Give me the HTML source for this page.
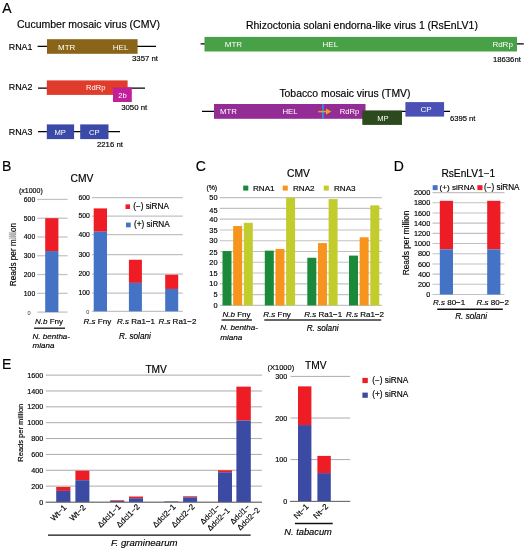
<!DOCTYPE html>
<html lang="en"><head><meta charset="utf-8"><title>Figure</title>
<style>
html,body{margin:0;padding:0;background:#fff;}
body{width:527px;height:550px;overflow:hidden;}
svg{display:block;font-family:"Liberation Sans",Arial,Helvetica,sans-serif;}
text{stroke-width:0.16px;}
text[fill="#000"]{stroke:#000;}
text[fill="#fff"]{stroke:none;}
</style></head><body>
<svg width="527" height="550" viewBox="0 0 527 550">
<rect x="0" y="0" width="527" height="550" fill="#ffffff"/>
<text x="2.30" y="12.75" font-size="14" text-anchor="start" fill="#000">A</text>
<text x="1.90" y="171.10" font-size="14" text-anchor="start" fill="#000">B</text>
<text x="195.80" y="171.10" font-size="14" text-anchor="start" fill="#000">C</text>
<text x="393.80" y="170.90" font-size="14" text-anchor="start" fill="#000">D</text>
<text x="1.90" y="369.10" font-size="14" text-anchor="start" fill="#000">E</text>
<text x="17.00" y="27.70" font-size="10.5" text-anchor="start" fill="#000">Cucumber mosaic virus (CMV)</text>
<text x="8.80" y="50.00" font-size="8.9" text-anchor="start" fill="#000">RNA1</text>
<line x1="37.60" y1="46.40" x2="156.00" y2="46.40" stroke="#000" stroke-width="1.35"/>
<rect x="47.00" y="39.20" width="90.60" height="14.60" fill="#8a6519"/>
<text x="58.00" y="50.00" font-size="8.0" text-anchor="start" fill="#fff">MTR</text>
<text x="112.80" y="50.00" font-size="8.0" text-anchor="start" fill="#fff">HEL</text>
<text x="132.00" y="61.00" font-size="7.8" text-anchor="start" fill="#000">3357 nt</text>
<text x="8.80" y="90.40" font-size="8.9" text-anchor="start" fill="#000">RNA2</text>
<line x1="38.00" y1="88.10" x2="145.00" y2="88.10" stroke="#000" stroke-width="1.35"/>
<rect x="46.80" y="80.40" width="80.80" height="14.50" fill="#e03c2b"/>
<text x="86.00" y="90.10" font-size="7.6" text-anchor="start" fill="#fff">RdRp</text>
<rect x="113.00" y="87.50" width="18.80" height="14.50" fill="#c21f9a"/>
<text x="122.60" y="97.70" font-size="7.6" text-anchor="middle" fill="#fff">2b</text>
<text x="121.20" y="110.00" font-size="7.8" text-anchor="start" fill="#000">3050 nt</text>
<text x="8.80" y="135.40" font-size="8.9" text-anchor="start" fill="#000">RNA3</text>
<line x1="38.00" y1="131.60" x2="120.00" y2="131.60" stroke="#000" stroke-width="1.35"/>
<rect x="46.80" y="124.40" width="27.30" height="14.70" fill="#3b4aa8"/>
<rect x="80.20" y="124.40" width="28.30" height="14.70" fill="#3b4aa8"/>
<text x="60.20" y="134.60" font-size="7.6" text-anchor="middle" fill="#fff">MP</text>
<text x="94.30" y="134.60" font-size="7.6" text-anchor="middle" fill="#fff">CP</text>
<text x="96.90" y="146.60" font-size="7.8" text-anchor="start" fill="#000">2216 nt</text>
<text x="246.00" y="29.00" font-size="10.45" text-anchor="start" fill="#000">Rhizoctonia solani endorna-like virus 1 (RsEnLV1)</text>
<line x1="200.60" y1="43.90" x2="523.80" y2="43.90" stroke="#000" stroke-width="1.35"/>
<rect x="204.50" y="36.90" width="312.50" height="14.60" fill="#49a147"/>
<text x="224.80" y="47.00" font-size="8.0" text-anchor="start" fill="#fff">MTR</text>
<text x="322.60" y="47.00" font-size="8.0" text-anchor="start" fill="#fff">HEL</text>
<text x="492.40" y="47.00" font-size="8.0" text-anchor="start" fill="#fff">RdRp</text>
<text x="493.00" y="61.80" font-size="7.7" text-anchor="start" fill="#000">18636nt</text>
<text x="279.40" y="96.70" font-size="10.4" text-anchor="start" fill="#000">Tobacco mosaic virus (TMV)</text>
<line x1="202.00" y1="111.40" x2="450.00" y2="111.40" stroke="#000" stroke-width="1.35"/>
<rect x="214.00" y="104.00" width="151.50" height="14.80" fill="#932d95"/>
<text x="220.00" y="114.20" font-size="7.8" text-anchor="start" fill="#fff">MTR</text>
<text x="282.40" y="114.20" font-size="7.8" text-anchor="start" fill="#fff">HEL</text>
<text x="339.70" y="114.20" font-size="7.65" text-anchor="start" fill="#fff">RdRp</text>
<line x1="322.90" y1="104.00" x2="322.90" y2="118.80" stroke="#2f97de" stroke-width="1.6"/>
<line x1="318.20" y1="111.60" x2="327.00" y2="111.60" stroke="#e3a322" stroke-width="1.5"/>
<path d="M326.0 108.4 L331.3 111.6 L326.0 114.8 Z" fill="#e3a322"/>
<rect x="362.30" y="110.60" width="39.70" height="14.30" fill="#2c4a1e"/>
<text x="383.00" y="121.10" font-size="7.6" text-anchor="middle" fill="#fff">MP</text>
<rect x="405.40" y="102.10" width="38.70" height="14.50" fill="#4a50b5"/>
<text x="426.00" y="112.20" font-size="8.1" text-anchor="middle" fill="#fff">CP</text>
<text x="450.00" y="120.90" font-size="7.65" text-anchor="start" fill="#000">6395 nt</text>
<text x="70.60" y="182.10" font-size="10.3" text-anchor="start" fill="#000">CMV</text>
<text x="19.00" y="193.10" font-size="7.0" text-anchor="start" fill="#000">(x1000)</text>
<line x1="37.30" y1="312.10" x2="67.60" y2="312.10" stroke="#c2c2c2" stroke-width="1.25"/>
<text x="30.50" y="314.50" font-size="5.6" text-anchor="end" fill="#333">0</text>
<line x1="37.30" y1="293.32" x2="67.60" y2="293.32" stroke="#c2c2c2" stroke-width="1.25"/>
<text x="35.20" y="295.72" font-size="6.8" text-anchor="end" fill="#000">100</text>
<line x1="37.30" y1="274.54" x2="67.60" y2="274.54" stroke="#c2c2c2" stroke-width="1.25"/>
<text x="35.20" y="276.94" font-size="6.8" text-anchor="end" fill="#000">200</text>
<line x1="37.30" y1="255.76" x2="67.60" y2="255.76" stroke="#c2c2c2" stroke-width="1.25"/>
<text x="35.20" y="258.16" font-size="6.8" text-anchor="end" fill="#000">300</text>
<line x1="37.30" y1="236.98" x2="67.60" y2="236.98" stroke="#c2c2c2" stroke-width="1.25"/>
<text x="35.20" y="239.38" font-size="6.8" text-anchor="end" fill="#000">400</text>
<line x1="37.30" y1="218.20" x2="67.60" y2="218.20" stroke="#c2c2c2" stroke-width="1.25"/>
<text x="35.20" y="220.60" font-size="6.8" text-anchor="end" fill="#000">500</text>
<line x1="37.30" y1="199.42" x2="67.60" y2="199.42" stroke="#c2c2c2" stroke-width="1.25"/>
<text x="35.20" y="201.82" font-size="6.8" text-anchor="end" fill="#000">600</text>
<rect x="45.20" y="218.20" width="13.20" height="32.86" fill="#ee1c25"/>
<rect x="45.20" y="251.06" width="13.20" height="61.04" fill="#4472c4"/>
<line x1="92.00" y1="311.40" x2="182.80" y2="311.40" stroke="#c2c2c2" stroke-width="1.25"/>
<text x="89.40" y="313.80" font-size="5.6" text-anchor="end" fill="#333">0</text>
<line x1="92.00" y1="293.00" x2="182.80" y2="293.00" stroke="#c2c2c2" stroke-width="1.25"/>
<text x="89.80" y="295.40" font-size="6.8" text-anchor="end" fill="#000">100</text>
<line x1="92.00" y1="274.00" x2="182.80" y2="274.00" stroke="#c2c2c2" stroke-width="1.25"/>
<text x="89.80" y="276.40" font-size="6.8" text-anchor="end" fill="#000">200</text>
<line x1="92.00" y1="254.50" x2="182.80" y2="254.50" stroke="#c2c2c2" stroke-width="1.25"/>
<text x="89.80" y="256.90" font-size="6.8" text-anchor="end" fill="#000">300</text>
<line x1="92.00" y1="234.60" x2="182.80" y2="234.60" stroke="#c2c2c2" stroke-width="1.25"/>
<text x="89.80" y="237.00" font-size="6.8" text-anchor="end" fill="#000">400</text>
<line x1="92.00" y1="216.00" x2="182.80" y2="216.00" stroke="#c2c2c2" stroke-width="1.25"/>
<text x="89.80" y="218.40" font-size="6.8" text-anchor="end" fill="#000">500</text>
<line x1="92.00" y1="197.60" x2="182.80" y2="197.60" stroke="#c2c2c2" stroke-width="1.25"/>
<text x="89.80" y="200.00" font-size="6.8" text-anchor="end" fill="#000">600</text>
<rect x="93.70" y="208.40" width="13.30" height="23.31" fill="#ee1c25"/>
<rect x="93.70" y="231.71" width="13.30" height="79.59" fill="#4472c4"/>
<rect x="128.90" y="259.76" width="13.00" height="23.12" fill="#ee1c25"/>
<rect x="128.90" y="282.88" width="13.00" height="28.43" fill="#4472c4"/>
<rect x="165.20" y="274.73" width="13.00" height="14.21" fill="#ee1c25"/>
<rect x="165.20" y="288.94" width="13.00" height="22.36" fill="#4472c4"/>
<rect x="125.50" y="204.40" width="4.50" height="4.60" fill="#ee1c25"/>
<text x="133.20" y="209.30" font-size="8.2" text-anchor="start" fill="#000">(−) siRNA</text>
<rect x="126.00" y="222.60" width="4.70" height="4.70" fill="#4472c4"/>
<text x="134.00" y="227.30" font-size="8.2" text-anchor="start" fill="#000">(+) siRNA</text>
<text x="35.00" y="323.80" font-size="8" text-anchor="start" fill="#000"><tspan font-style="italic">N.b</tspan> Fny</text>
<line x1="34.00" y1="328.20" x2="65.00" y2="328.20" stroke="#111" stroke-width="1.3"/>
<text x="32.60" y="338.60" font-size="8" text-anchor="start" fill="#000" font-style="italic">N. bentha-</text>
<text x="32.60" y="347.80" font-size="8" text-anchor="start" fill="#000" font-style="italic">miana</text>
<text x="83.60" y="323.80" font-size="8" text-anchor="start" fill="#000"><tspan font-style="italic">R.s</tspan> Fny</text>
<text x="117.00" y="323.80" font-size="8" text-anchor="start" fill="#000"><tspan font-style="italic">R.s</tspan> Ra1−1</text>
<text x="158.40" y="323.80" font-size="8" text-anchor="start" fill="#000"><tspan font-style="italic">R.s</tspan> Ra1−2</text>
<text x="119.00" y="339.00" font-size="8.2" text-anchor="start" fill="#000" font-style="italic">R. solani</text>
<text transform="translate(15.6,254.5) rotate(-90)" font-size="8.2" text-anchor="middle" fill="#000">Reads per million</text>
<rect x="9.2" y="232.0" width="6.4" height="7.4" fill="#dcdcdc" fill-opacity="0.9"/>
<rect x="10.4" y="232.6" width="4.8" height="5.2" fill="#b4b4b4" fill-opacity="0.9"/>
<text x="287.00" y="177.00" font-size="10.3" text-anchor="start" fill="#000">CMV</text>
<text x="206.40" y="190.40" font-size="6.9" text-anchor="start" fill="#000">(%)</text>
<rect x="243.20" y="185.60" width="5.10" height="5.00" fill="#1a8a3a"/>
<text x="253.00" y="191.00" font-size="8.1" text-anchor="start" fill="#000">RNA1</text>
<rect x="282.70" y="185.60" width="5.10" height="5.00" fill="#f7941d"/>
<text x="293.00" y="191.00" font-size="8.1" text-anchor="start" fill="#000">RNA2</text>
<rect x="323.70" y="185.60" width="5.10" height="5.00" fill="#c3cc2d"/>
<text x="334.00" y="191.00" font-size="8.1" text-anchor="start" fill="#000">RNA3</text>
<line x1="219.70" y1="305.40" x2="381.90" y2="305.40" stroke="#c2c2c2" stroke-width="1.1"/>
<text x="217.60" y="308.00" font-size="7.4" text-anchor="end" fill="#000">0</text>
<line x1="219.70" y1="294.62" x2="381.90" y2="294.62" stroke="#c2c2c2" stroke-width="1.1"/>
<text x="217.60" y="297.22" font-size="7.4" text-anchor="end" fill="#000">5</text>
<line x1="219.70" y1="283.84" x2="381.90" y2="283.84" stroke="#c2c2c2" stroke-width="1.1"/>
<text x="217.60" y="286.44" font-size="7.4" text-anchor="end" fill="#000">10</text>
<line x1="219.70" y1="273.06" x2="381.90" y2="273.06" stroke="#c2c2c2" stroke-width="1.1"/>
<text x="217.60" y="275.66" font-size="7.4" text-anchor="end" fill="#000">15</text>
<line x1="219.70" y1="262.28" x2="381.90" y2="262.28" stroke="#c2c2c2" stroke-width="1.1"/>
<text x="217.60" y="264.88" font-size="7.4" text-anchor="end" fill="#000">20</text>
<line x1="219.70" y1="251.50" x2="381.90" y2="251.50" stroke="#c2c2c2" stroke-width="1.1"/>
<text x="217.60" y="254.80" font-size="7.4" text-anchor="end" fill="#000">25</text>
<line x1="219.70" y1="240.72" x2="381.90" y2="240.72" stroke="#c2c2c2" stroke-width="1.1"/>
<text x="217.60" y="243.32" font-size="7.4" text-anchor="end" fill="#000">30</text>
<line x1="219.70" y1="229.94" x2="381.90" y2="229.94" stroke="#c2c2c2" stroke-width="1.1"/>
<text x="217.60" y="232.54" font-size="7.4" text-anchor="end" fill="#000">35</text>
<line x1="219.70" y1="219.16" x2="381.90" y2="219.16" stroke="#c2c2c2" stroke-width="1.1"/>
<text x="217.60" y="221.76" font-size="7.4" text-anchor="end" fill="#000">40</text>
<line x1="219.70" y1="208.38" x2="381.90" y2="208.38" stroke="#c2c2c2" stroke-width="1.1"/>
<text x="217.60" y="212.78" font-size="7.4" text-anchor="end" fill="#000">45</text>
<line x1="219.70" y1="197.60" x2="381.90" y2="197.60" stroke="#c2c2c2" stroke-width="1.1"/>
<text x="217.60" y="200.20" font-size="7.4" text-anchor="end" fill="#000">50</text>
<rect x="222.50" y="251.07" width="9.00" height="54.33" fill="#1a8a3a"/>
<rect x="233.15" y="226.06" width="9.00" height="79.34" fill="#f7941d"/>
<rect x="243.80" y="222.83" width="9.00" height="82.57" fill="#c3cc2d"/>
<rect x="264.80" y="250.64" width="9.00" height="54.76" fill="#1a8a3a"/>
<rect x="275.45" y="248.91" width="9.00" height="56.49" fill="#f7941d"/>
<rect x="286.10" y="197.60" width="9.00" height="107.80" fill="#c3cc2d"/>
<rect x="307.30" y="257.75" width="9.00" height="47.65" fill="#1a8a3a"/>
<rect x="317.95" y="243.09" width="9.00" height="62.31" fill="#f7941d"/>
<rect x="328.60" y="199.11" width="9.00" height="106.29" fill="#c3cc2d"/>
<rect x="349.00" y="255.60" width="9.00" height="49.80" fill="#1a8a3a"/>
<rect x="359.65" y="237.27" width="9.00" height="68.13" fill="#f7941d"/>
<rect x="370.30" y="205.36" width="9.00" height="100.04" fill="#c3cc2d"/>
<text x="222.50" y="316.90" font-size="8" text-anchor="start" fill="#000"><tspan font-style="italic">N.b</tspan> Fny</text>
<line x1="221.60" y1="320.00" x2="252.00" y2="320.00" stroke="#333" stroke-width="1.5"/>
<line x1="264.30" y1="320.00" x2="381.20" y2="320.00" stroke="#333" stroke-width="1.5"/>
<text x="263.30" y="316.90" font-size="8" text-anchor="start" fill="#000"><tspan font-style="italic">R.s</tspan> Fny</text>
<text x="304.20" y="316.70" font-size="8" text-anchor="start" fill="#000"><tspan font-style="italic">R.s</tspan> Ra1−1</text>
<text x="346.00" y="316.70" font-size="8" text-anchor="start" fill="#000"><tspan font-style="italic">R.s</tspan> Ra1−2</text>
<text x="306.70" y="330.90" font-size="8.2" text-anchor="start" fill="#000" font-style="italic">R. solani</text>
<text x="220.20" y="330.20" font-size="8.1" text-anchor="start" fill="#000" font-style="italic">N. bentha-</text>
<text x="220.20" y="340.00" font-size="8.1" text-anchor="start" fill="#000" font-style="italic">miana</text>
<text x="441.40" y="177.20" font-size="10.2" text-anchor="start" fill="#000">RsEnLV1−1</text>
<rect x="432.70" y="185.20" width="4.90" height="4.90" fill="#4472c4"/>
<text x="439.60" y="190.20" font-size="8.1" text-anchor="start" fill="#000">(+) siRNA</text>
<rect x="477.40" y="185.20" width="5.10" height="4.90" fill="#ee1c25"/>
<text x="484.00" y="190.20" font-size="8.15" text-anchor="start" fill="#000">(−) siRNA</text>
<line x1="432.50" y1="294.50" x2="504.50" y2="294.50" stroke="#c2c2c2" stroke-width="1.1"/>
<text x="430.20" y="297.10" font-size="7.3" text-anchor="end" fill="#000">0</text>
<line x1="432.50" y1="284.31" x2="504.50" y2="284.31" stroke="#c2c2c2" stroke-width="1.1"/>
<text x="430.20" y="286.91" font-size="7.3" text-anchor="end" fill="#000">200</text>
<line x1="432.50" y1="274.12" x2="504.50" y2="274.12" stroke="#c2c2c2" stroke-width="1.1"/>
<text x="430.20" y="276.72" font-size="7.3" text-anchor="end" fill="#000">400</text>
<line x1="432.50" y1="263.93" x2="504.50" y2="263.93" stroke="#c2c2c2" stroke-width="1.1"/>
<text x="430.20" y="266.53" font-size="7.3" text-anchor="end" fill="#000">600</text>
<line x1="432.50" y1="253.74" x2="504.50" y2="253.74" stroke="#c2c2c2" stroke-width="1.1"/>
<text x="430.20" y="256.34" font-size="7.3" text-anchor="end" fill="#000">800</text>
<line x1="432.50" y1="243.55" x2="504.50" y2="243.55" stroke="#c2c2c2" stroke-width="1.1"/>
<text x="430.20" y="246.15" font-size="7.3" text-anchor="end" fill="#000">1000</text>
<line x1="432.50" y1="233.36" x2="504.50" y2="233.36" stroke="#c2c2c2" stroke-width="1.1"/>
<text x="430.20" y="235.96" font-size="7.3" text-anchor="end" fill="#000">1200</text>
<line x1="432.50" y1="223.17" x2="504.50" y2="223.17" stroke="#c2c2c2" stroke-width="1.1"/>
<text x="430.20" y="225.77" font-size="7.3" text-anchor="end" fill="#000">1400</text>
<line x1="432.50" y1="212.98" x2="504.50" y2="212.98" stroke="#c2c2c2" stroke-width="1.1"/>
<text x="430.20" y="215.58" font-size="7.3" text-anchor="end" fill="#000">1600</text>
<line x1="432.50" y1="202.79" x2="504.50" y2="202.79" stroke="#c2c2c2" stroke-width="1.1"/>
<text x="430.20" y="205.39" font-size="7.3" text-anchor="end" fill="#000">1800</text>
<line x1="432.50" y1="192.60" x2="504.50" y2="192.60" stroke="#c2c2c2" stroke-width="1.1"/>
<text x="430.20" y="195.20" font-size="7.3" text-anchor="end" fill="#000">2000</text>
<rect x="439.80" y="200.80" width="13.20" height="48.50" fill="#ee1c25"/>
<rect x="439.80" y="249.31" width="13.20" height="45.19" fill="#4472c4"/>
<rect x="487.20" y="200.80" width="13.20" height="48.50" fill="#ee1c25"/>
<rect x="487.20" y="249.31" width="13.20" height="45.19" fill="#4472c4"/>
<text x="433.00" y="304.80" font-size="8" text-anchor="start" fill="#000"><tspan font-style="italic">R.s</tspan> 80−1</text>
<text x="476.60" y="304.80" font-size="8" text-anchor="start" fill="#000"><tspan font-style="italic">R.s</tspan> 80−2</text>
<line x1="437.20" y1="309.30" x2="502.80" y2="309.30" stroke="#111" stroke-width="1.4"/>
<text x="455.20" y="318.90" font-size="8.2" text-anchor="start" fill="#000" font-style="italic">R. solani</text>
<text transform="translate(409.3,243) rotate(-90)" font-size="8.4" text-anchor="middle" fill="#000">Reads per million</text>
<text x="145.40" y="372.60" font-size="10.2" text-anchor="start" fill="#000">TMV</text>
<line x1="45.80" y1="502.00" x2="262.00" y2="502.00" stroke="#9c9c9c" stroke-width="0.85"/>
<text x="43.20" y="504.60" font-size="7.2" text-anchor="end" fill="#000">0</text>
<line x1="45.80" y1="486.14" x2="262.00" y2="486.14" stroke="#9c9c9c" stroke-width="0.85"/>
<text x="43.20" y="488.74" font-size="7.2" text-anchor="end" fill="#000">200</text>
<line x1="45.80" y1="470.28" x2="262.00" y2="470.28" stroke="#9c9c9c" stroke-width="0.85"/>
<text x="43.20" y="472.88" font-size="7.2" text-anchor="end" fill="#000">400</text>
<line x1="45.80" y1="454.42" x2="262.00" y2="454.42" stroke="#9c9c9c" stroke-width="0.85"/>
<text x="43.20" y="457.02" font-size="7.2" text-anchor="end" fill="#000">600</text>
<line x1="45.80" y1="438.56" x2="262.00" y2="438.56" stroke="#9c9c9c" stroke-width="0.85"/>
<text x="43.20" y="441.16" font-size="7.2" text-anchor="end" fill="#000">800</text>
<line x1="45.80" y1="422.70" x2="262.00" y2="422.70" stroke="#9c9c9c" stroke-width="0.85"/>
<text x="43.20" y="425.30" font-size="7.2" text-anchor="end" fill="#000">1000</text>
<line x1="45.80" y1="406.84" x2="262.00" y2="406.84" stroke="#9c9c9c" stroke-width="0.85"/>
<text x="43.20" y="409.44" font-size="7.2" text-anchor="end" fill="#000">1200</text>
<line x1="45.80" y1="390.98" x2="262.00" y2="390.98" stroke="#9c9c9c" stroke-width="0.85"/>
<text x="43.20" y="393.58" font-size="7.2" text-anchor="end" fill="#000">1400</text>
<line x1="45.80" y1="375.12" x2="262.00" y2="375.12" stroke="#9c9c9c" stroke-width="0.85"/>
<text x="43.20" y="377.72" font-size="7.2" text-anchor="end" fill="#000">1600</text>
<rect x="56.20" y="486.93" width="14.20" height="3.97" fill="#ee1c25"/>
<rect x="56.20" y="490.90" width="14.20" height="11.10" fill="#3b4aa3"/>
<text transform="translate(67.00,508.10) rotate(-45)" font-size="8.0" text-anchor="end" fill="#000">Wt−1</text>
<rect x="75.40" y="470.68" width="14.00" height="9.52" fill="#ee1c25"/>
<rect x="75.40" y="480.19" width="14.00" height="21.81" fill="#3b4aa3"/>
<text transform="translate(86.10,508.10) rotate(-45)" font-size="8.0" text-anchor="end" fill="#000">Wt−2</text>
<rect x="110.20" y="500.26" width="14.00" height="0.71" fill="#ee1c25"/>
<rect x="110.20" y="500.97" width="14.00" height="1.03" fill="#3b4aa3"/>
<text transform="translate(121.30,507.30) rotate(-45)" font-size="8.0" text-anchor="end" fill="#000">Δdcl1−1</text>
<rect x="129.00" y="496.53" width="14.00" height="1.74" fill="#ee1c25"/>
<rect x="129.00" y="498.27" width="14.00" height="3.73" fill="#3b4aa3"/>
<text transform="translate(140.10,507.30) rotate(-45)" font-size="8.0" text-anchor="end" fill="#000">Δdcl1−2</text>
<rect x="164.30" y="501.37" width="13.90" height="0.24" fill="#ee1c25"/>
<rect x="164.30" y="501.60" width="13.90" height="0.40" fill="#3b4aa3"/>
<text transform="translate(176.25,507.30) rotate(-45)" font-size="8.0" text-anchor="end" fill="#000">Δdcl2−1</text>
<rect x="183.10" y="496.29" width="14.00" height="1.03" fill="#ee1c25"/>
<rect x="183.10" y="497.32" width="14.00" height="4.68" fill="#3b4aa3"/>
<text transform="translate(195.10,507.30) rotate(-45)" font-size="8.0" text-anchor="end" fill="#000">Δdcl2−2</text>
<rect x="218.00" y="470.28" width="14.00" height="1.98" fill="#ee1c25"/>
<rect x="218.00" y="472.26" width="14.00" height="29.74" fill="#3b4aa3"/>
<text transform="translate(220.30,507.60) rotate(-45)" font-size="7.8" text-anchor="end" fill="#000">Δdcl1−</text>
<text transform="translate(230.30,511.20) rotate(-45)" font-size="7.8" text-anchor="end" fill="#000">Δdcl2−1</text>
<rect x="236.40" y="386.62" width="14.40" height="33.94" fill="#ee1c25"/>
<rect x="236.40" y="420.56" width="14.40" height="81.44" fill="#3b4aa3"/>
<text transform="translate(250.20,507.60) rotate(-45)" font-size="7.8" text-anchor="end" fill="#000">Δdcl1−</text>
<text transform="translate(260.30,510.60) rotate(-45)" font-size="7.8" text-anchor="end" fill="#000">Δdcl2−2</text>
<line x1="45.60" y1="502.30" x2="262.00" y2="502.30" stroke="#707070" stroke-width="1.0"/>
<line x1="48.00" y1="535.10" x2="250.60" y2="535.10" stroke="#111" stroke-width="1.3"/>
<text x="111.00" y="545.70" font-size="9.6" text-anchor="start" fill="#000" font-style="italic">F. graminearum</text>
<text transform="translate(23.3,432.7) rotate(-90)" font-size="7.5" text-anchor="middle" fill="#000">Reads per million</text>
<text x="267.50" y="370.00" font-size="7.5" text-anchor="start" fill="#000">(X1000)</text>
<text x="305.00" y="369.30" font-size="10.2" text-anchor="start" fill="#000">TMV</text>
<line x1="290.50" y1="501.20" x2="350.20" y2="501.20" stroke="#9c9c9c" stroke-width="0.85"/>
<text x="287.20" y="503.80" font-size="7.2" text-anchor="end" fill="#000">0</text>
<line x1="290.50" y1="459.60" x2="350.20" y2="459.60" stroke="#9c9c9c" stroke-width="0.85"/>
<text x="287.20" y="462.20" font-size="7.2" text-anchor="end" fill="#000">100</text>
<line x1="290.50" y1="418.00" x2="350.20" y2="418.00" stroke="#9c9c9c" stroke-width="0.85"/>
<text x="287.20" y="420.60" font-size="7.2" text-anchor="end" fill="#000">200</text>
<line x1="290.50" y1="376.40" x2="350.20" y2="376.40" stroke="#9c9c9c" stroke-width="0.85"/>
<text x="287.20" y="379.00" font-size="7.2" text-anchor="end" fill="#000">300</text>
<rect x="298.00" y="386.38" width="13.40" height="38.69" fill="#ee1c25"/>
<rect x="298.00" y="425.07" width="13.40" height="76.13" fill="#3b4aa3"/>
<rect x="317.40" y="455.90" width="13.40" height="17.22" fill="#ee1c25"/>
<rect x="317.40" y="473.12" width="13.40" height="28.08" fill="#3b4aa3"/>
<text transform="translate(309.20,507.20) rotate(-45)" font-size="8.0" text-anchor="end" fill="#000">Nt−1</text>
<text transform="translate(328.70,507.20) rotate(-45)" font-size="8.0" text-anchor="end" fill="#000">Nt−2</text>
<line x1="290.00" y1="501.50" x2="350.20" y2="501.50" stroke="#707070" stroke-width="1.0"/>
<line x1="295.00" y1="523.60" x2="332.70" y2="523.60" stroke="#111" stroke-width="1.5"/>
<text x="284.30" y="535.20" font-size="9.3" text-anchor="start" fill="#000" font-style="italic">N. tabacum</text>
<rect x="362.40" y="377.90" width="5.40" height="5.20" fill="#ee1c25"/>
<text x="372.20" y="383.00" font-size="8.3" text-anchor="start" fill="#000">(−) siRNA</text>
<rect x="362.40" y="392.60" width="5.40" height="5.20" fill="#3b4aa3"/>
<text x="372.20" y="397.20" font-size="8.3" text-anchor="start" fill="#000">(+) siRNA</text>
</svg>
</body></html>
